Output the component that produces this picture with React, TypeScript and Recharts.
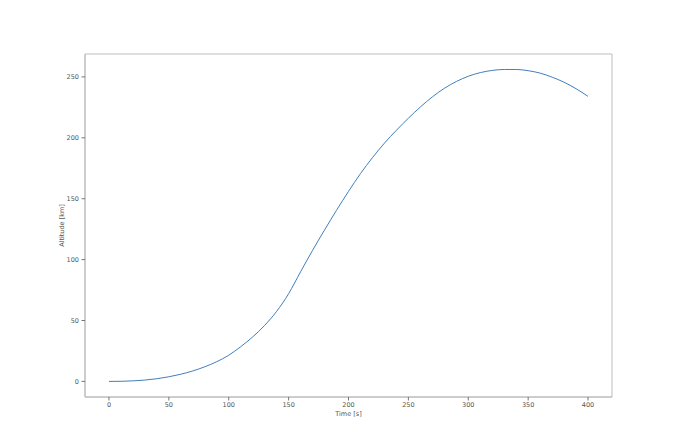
import React from 'react';
import { LineChart, Line, XAxis, YAxis, ReferenceArea } from 'recharts';

const times = [0, 10, 20, 30, 40, 50, 60, 70, 80, 90, 100, 110, 120, 130, 140, 150, 160, 170, 180, 190, 200, 210, 220, 230, 240, 250, 260, 270, 280, 290, 300, 310, 320, 330, 340, 350, 360, 370, 380, 390, 400];
const altitudes = [0, 0.1, 0.45, 1.1, 2.2, 3.8, 5.9, 8.6, 12, 16.2, 21.5, 28.5, 36.5, 46, 57.5, 72, 90, 107.6, 124.3, 140.5, 156, 170.6, 183.7, 195.6, 206.2, 216.1, 225.3, 233.6, 240.6, 246.2, 250.5, 253.5, 255.3, 256.1, 256.1, 255.1, 253.1, 249.8, 245.6, 240.3, 234];
const xTicks = [0, 50, 100, 150, 200, 250, 300, 350, 400];
const yTicks = [0, 50, 100, 150, 200, 250];
const xDomain = [-20, 420];
const yDomain = [-12.8, 268.8];

const data = times.map((t, i) => ({ t, alt: altitudes[i] }));

const FONT = '"DejaVu Sans", sans-serif';
const TEXT = '#555555';
const FRAME = '#bcbcbc';

const YLabel = (props: any) => {
  const vb = props.viewBox || {};
  const cx = vb.x + vb.width - 23;
  const cy = vb.y + vb.height / 2;
  return (
    <text
      x={cx}
      y={cy}
      transform={`rotate(-90, ${cx}, ${cy})`}
      textAnchor="middle"
      dominantBaseline="central"
      fontSize={6.5}
      fontFamily={FONT}
      fill={TEXT}
    >
      Altitude [km]
    </text>
  );
};

const XLabel = (props: any) => {
  const vb = props.viewBox || {};
  return (
    <text
      x={vb.x + vb.width / 2}
      y={vb.y + 17}
      textAnchor="middle"
      dominantBaseline="central"
      fontSize={6.5}
      fontFamily={FONT}
      fill={TEXT}
    >
      Time [s]
    </text>
  );
};

export default function App() {
  return (
    <div style={{ position: 'absolute', left: 0, top: 0, width: 680, height: 446, background: '#fff' }}>
      <LineChart width={680} height={446} data={data} margin={{ top: 54, right: 68, bottom: 0, left: 0 }}>
        <XAxis
          dataKey="t"
          type="number"
          domain={xDomain}
          ticks={xTicks}
          allowDataOverflow
          height={49}
          tickSize={3.5}
          tickMargin={2}
          axisLine={{ stroke: FRAME, strokeWidth: 1 }}
          tickLine={{ stroke: TEXT, strokeWidth: 0.8 }}
          tick={{ fontSize: 6.5, fontFamily: FONT, fill: TEXT }}
          label={<XLabel />}
        />
        <YAxis
          type="number"
          domain={yDomain}
          ticks={yTicks}
          allowDataOverflow
          width={85}
          tickSize={3.5}
          tickMargin={2.5}
          axisLine={{ stroke: FRAME, strokeWidth: 1 }}
          tickLine={{ stroke: TEXT, strokeWidth: 0.8 }}
          tick={{ fontSize: 6.5, fontFamily: FONT, fill: TEXT }}
          label={<YLabel />}
        />
        <ReferenceArea
          x1={xDomain[0]}
          x2={xDomain[1]}
          y1={yDomain[0]}
          y2={yDomain[1]}
          fill="none"
          stroke={FRAME}
          strokeWidth={1}
          ifOverflow="visible"
        />
        <Line
          type="monotone"
          dataKey="alt"
          stroke="#3f7fbf"
          strokeWidth={1}
          dot={false}
          isAnimationActive={false}
        />
      </LineChart>
    </div>
  );
}
